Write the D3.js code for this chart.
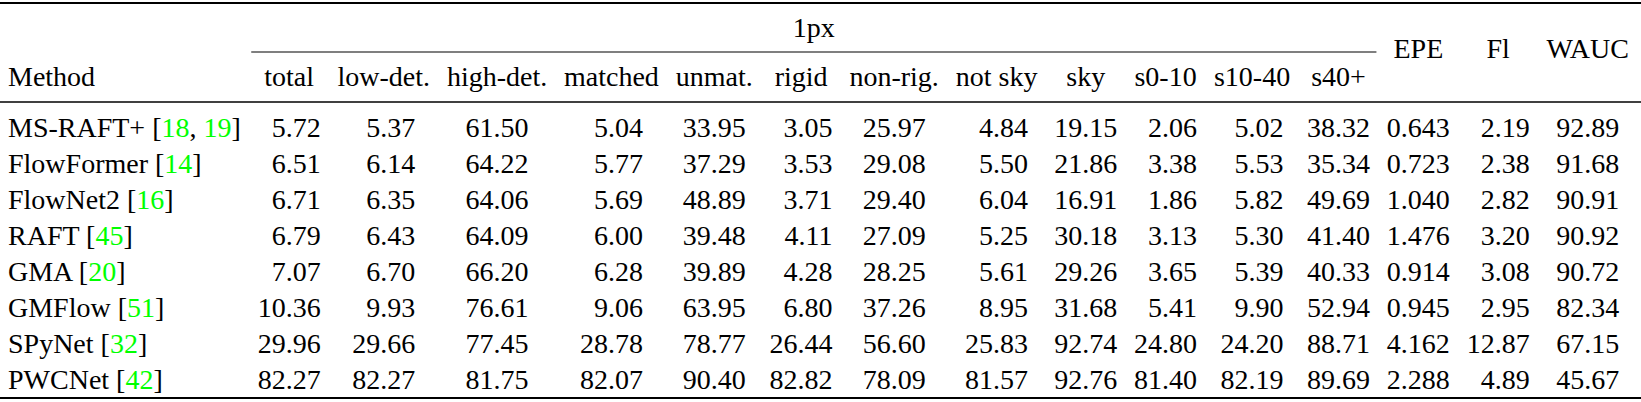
<!DOCTYPE html>
<html><head><meta charset="utf-8">
<script src="https://cdn.jsdelivr.net/npm/d3@7"></script>
<style>body{margin:0;background:#fff} svg text{font-family:"Liberation Serif","Times New Roman",Times,"DejaVu Serif",serif}</style>
</head><body>
<script>
// table data
var methods = ["MS-RAFT+", "FlowFormer", "FlowNet2", "RAFT", "GMA", "GMFlow", "SPyNet", "PWCNet"];
var refs = [["18", "19"], ["14"], ["16"], ["45"], ["20"], ["51"], ["32"], ["42"]];
var columns = ["total", "low-det.", "high-det.", "matched", "unmat.", "rigid", "non-rig.", "not sky", "sky", "s0-10", "s10-40", "s40+", "EPE", "Fl", "WAUC"];
var values = [
  ["5.72","5.37","61.50","5.04","33.95","3.05","25.97","4.84","19.15","2.06","5.02","38.32","0.643","2.19","92.89"],
  ["6.51","6.14","64.22","5.77","37.29","3.53","29.08","5.50","21.86","3.38","5.53","35.34","0.723","2.38","91.68"],
  ["6.71","6.35","64.06","5.69","48.89","3.71","29.40","6.04","16.91","1.86","5.82","49.69","1.040","2.82","90.91"],
  ["6.79","6.43","64.09","6.00","39.48","4.11","27.09","5.25","30.18","3.13","5.30","41.40","1.476","3.20","90.92"],
  ["7.07","6.70","66.20","6.28","39.89","4.28","28.25","5.61","29.26","3.65","5.39","40.33","0.914","3.08","90.72"],
  ["10.36","9.93","76.61","9.06","63.95","6.80","37.26","8.95","31.68","5.41","9.90","52.94","0.945","2.95","82.34"],
  ["29.96","29.66","77.45","28.78","78.77","26.44","56.60","25.83","92.74","24.80","24.20","88.71","4.162","12.87","67.15"],
  ["82.27","82.27","81.75","82.07","90.40","82.82","78.09","81.57","92.76","81.40","82.19","89.69","2.288","4.89","45.67"]
];
var groupLabel = "1px", groupCount = 12;

var W = 1641, H = 402, fs = 28, left = 8, right = 1629;
var svg = d3.select("body").append("svg").attr("width", W).attr("height", H)
  .attr("font-family", "Liberation Serif, Times New Roman, serif").style("font-size", fs + "px");

var probe = svg.append("text");
function tw(s) { probe.text(s); return probe.node().getComputedTextLength(); }
var numW = tw("00.00");
var methodW = d3.max(methods.map(function(m, i) { return tw(m + " [" + refs[i].join(", ") + "]"); }));
var colW = columns.map(function(c, j) {
  return Math.max(tw(c), d3.max(values, function(r) { return tw(r[j]); }), numW);
});
probe.remove();
var pad = (right - left - methodW - d3.sum(colW)) / (2 * columns.length);

var edges = [left + methodW + pad];
colW.forEach(function(w) { edges.push(edges[edges.length - 1] + w + 2 * pad); });
var cx = columns.map(function(c, j) { return (edges[j] + edges[j + 1]) / 2; });

var y = d3.scaleLinear().domain([0, 1]).range([137, 173]);

function rule(x1, x2, yy, sw) {
  svg.append("line").attr("x1", x1).attr("x2", x2).attr("y1", yy).attr("y2", yy)
    .attr("stroke", "#000").attr("stroke-width", sw);
}
rule(0, W, 3, 2);
rule(edges[0] + 2, edges[groupCount] - 2, 52, 1.2);
rule(0, W, 102, 1.3);
rule(0, W, 398, 2);

svg.append("text").attr("x", (edges[0] + edges[groupCount]) / 2).attr("y", 37)
  .attr("text-anchor", "middle").text(groupLabel);
svg.append("text").attr("x", left).attr("y", 86).text("Method");
columns.forEach(function(c, j) {
  svg.append("text").attr("x", cx[j]).attr("y", j < groupCount ? 86 : 58)
    .attr("text-anchor", "middle").text(c);
});

methods.forEach(function(m, i) {
  var t = svg.append("text").attr("x", left).attr("y", y(i));
  t.append("tspan").text(m + " [");
  refs[i].forEach(function(r, k) {
    if (k) t.append("tspan").text(", ");
    t.append("tspan").attr("fill", "#00ff00").text(r);
  });
  t.append("tspan").text("]");
  values[i].forEach(function(v, j) {
    svg.append("text").attr("x", cx[j] + numW / 2).attr("y", y(i))
      .attr("text-anchor", "end").text(v);
  });
});
</script>
</body></html>
